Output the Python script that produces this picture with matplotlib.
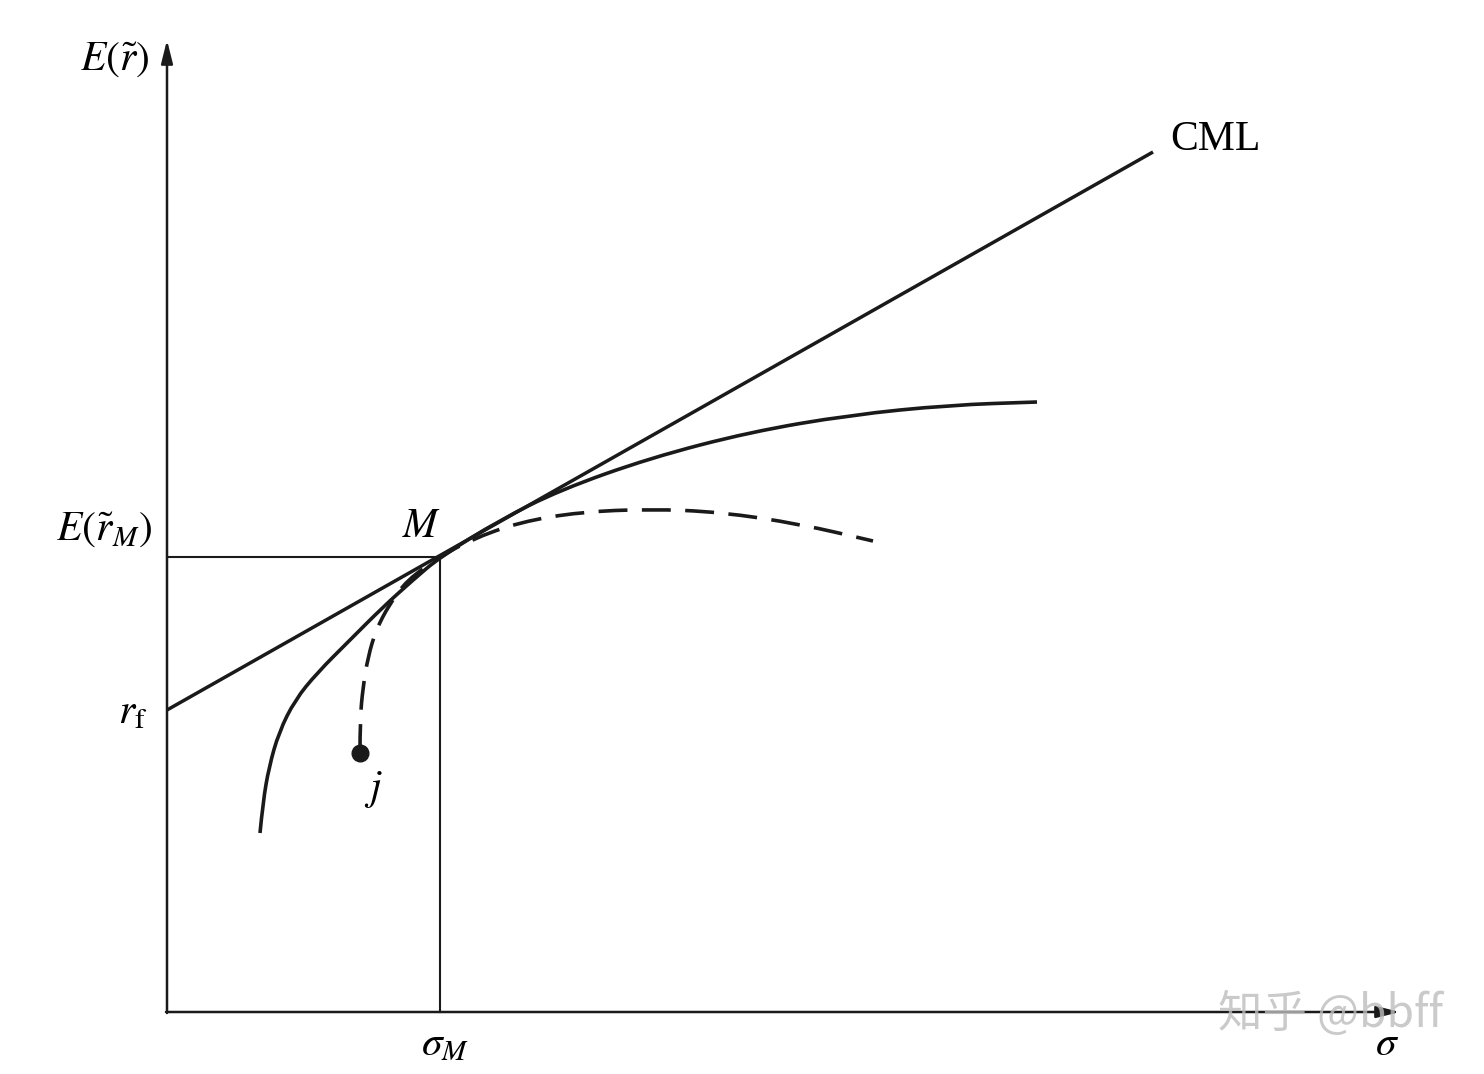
import matplotlib.pyplot as plt
from matplotlib.path import Path
from matplotlib.patches import PathPatch

plt.rcParams['mathtext.fontset'] = 'stix'
plt.rcParams['font.family'] = ['Liberation Serif', 'DejaVu Serif']

# points (sigma, expected return)
rf = 3.02
sigma_m, er_m = 2.73, 4.55
cml_end = (9.86, 8.60)

frontier_sigma = [0.93, 0.96, 1.02, 1.12, 1.28, 1.50, 1.83, 2.16, 2.46, 2.73,
                  3.33, 3.93, 4.83, 5.83, 6.83, 7.83, 8.70]
frontier_er = [1.79, 2.10, 2.45, 2.80, 3.12, 3.39, 3.72, 4.05, 4.32, 4.55,
               4.92, 5.22, 5.54, 5.80, 5.97, 6.07, 6.10]

j_sigma = [1.93, 1.93, 1.96, 2.01, 2.09, 2.22, 2.40, 2.73,
           3.03, 3.53, 4.13, 4.83, 5.53, 6.33, 7.06]
j_er = [2.59, 2.92, 3.25, 3.55, 3.82, 4.07, 4.32, 4.55,
        4.72, 4.90, 5.00, 5.03, 5.00, 4.88, 4.71]

x_max, y_max = 12.33, 9.72


def smooth_path(xs, ys):
    # quadratic bezier through the midpoints, points act as control points
    verts = [(xs[0], ys[0])]
    codes = [Path.MOVETO]
    for i in range(1, len(xs) - 1):
        verts += [(xs[i], ys[i]), ((xs[i] + xs[i + 1]) / 2, (ys[i] + ys[i + 1]) / 2)]
        codes += [Path.CURVE3, Path.CURVE3]
    verts.append((xs[-1], ys[-1]))
    codes.append(Path.LINETO)
    return Path(verts, codes)


fig = plt.figure(figsize=(14.84, 10.74), dpi=100)
ax = fig.add_axes([0, 0, 1, 1])
ax.set_xlim(-1.67, 13.17)
ax.set_ylim(-0.62, 10.12)
ax.axis('off')

ink = '#1a1a1a'

# axes with arrows
ax.annotate('', xy=(0, y_max), xytext=(0, -0.01),
            arrowprops=dict(arrowstyle='-|>,head_length=1.4,head_width=0.35',
                            lw=1.8, color=ink, shrinkA=0, shrinkB=0))
ax.annotate('', xy=(x_max, 0), xytext=(-0.01, 0),
            arrowprops=dict(arrowstyle='-|>,head_length=1.4,head_width=0.35',
                            lw=1.8, color=ink, shrinkA=0, shrinkB=0))

# market portfolio guides
ax.plot([0, sigma_m], [er_m, er_m], color=ink, lw=1.5)
ax.plot([sigma_m, sigma_m], [0, er_m], color=ink, lw=1.5)

# CML
ax.plot([0, cml_end[0]], [rf, cml_end[1]], color=ink, lw=2.5,
        solid_capstyle='butt')

# efficient frontier
ax.add_patch(PathPatch(smooth_path(frontier_sigma, frontier_er), fill=False,
                       ec=ink, lw=2.6, capstyle='butt'))

# portfolios of j and M
ax.add_patch(PathPatch(smooth_path(j_sigma, j_er), fill=False, ec=ink, lw=2.6,
                       linestyle=(0, (8, 4)), capstyle='butt'))
ax.plot(j_sigma[0], j_er[0], 'o', color=ink, ms=12)

fs = 30
ax.text(-0.52, 9.52, r'$E(\tilde{r})$', fontsize=fs, ha='center', va='center')
ax.text(-0.63, 4.82, r'$E(\tilde{r}_M)$', fontsize=fs, ha='center', va='center')
ax.text(2.55, 4.85, r'$M$', fontsize=fs, ha='center', va='center')
ax.text(-0.34, 2.99, r'$r_\mathrm{f}$', fontsize=fs, ha='center', va='center')
ax.text(2.06, 2.22, r'$j$', fontsize=fs, ha='center', va='center')
ax.text(2.78, -0.33, r'$\sigma_M$', fontsize=fs, ha='center', va='center')
ax.text(12.20, -0.33, r'$\sigma$', fontsize=fs, ha='center', va='center')
ax.text(10.48, 8.72, 'CML', fontsize=fs, ha='center', va='center')

# watermark
ax.text(11.63, -0.02, '知乎 @bbff', fontsize=32, color='#bdbdbd', alpha=0.8,
        ha='center', va='center', family=['Noto Sans CJK SC', 'DejaVu Sans'])

fig.savefig('out.png', dpi=100, facecolor='white')
